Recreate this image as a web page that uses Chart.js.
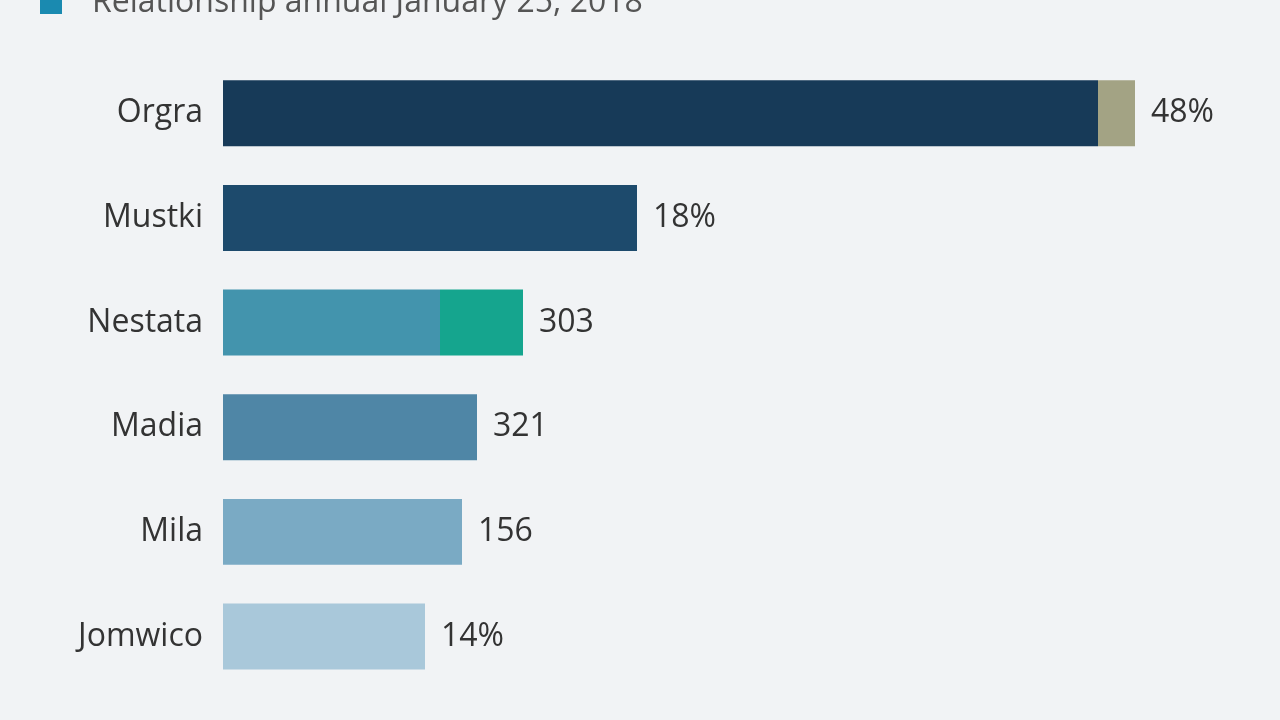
<!DOCTYPE html>
<html><head><meta charset="utf-8">
<script src="https://cdn.jsdelivr.net/npm/chart.js@4"></script>
<style>html,body{margin:0;background:#f1f3f5;}#w{width:1280px;height:720px;position:relative}
#t{position:absolute;left:40px;top:-22px;font:32px "Open Sans",sans-serif;color:#555;white-space:nowrap}
#t span{display:inline-block;width:22px;height:22px;background:#1a8ab0;margin-right:30px;vertical-align:middle}</style>
</head><body><div id="w"><div id="t"><span></span>Relationship annual January 25, 2018</div><canvas id="c" width="1280" height="720"></canvas></div>
<script>
const categories=["Orgra","Mustki","Nestata","Madia","Mila","Jomwico"];
const mainValues=[87.5,41.4,21.7,25.4,23.9,20.2];
const extraValues=[3.7,0,8.3,0,0,0];
const valueLabels=["48%","18%","303","321","156","14%"];
const mainColors=["#173a58","#1d4a6c","#4394ad","#4f86a6","#7aaac4","#a9c8da"];
const extraColors=["#a3a384","#000","#15a58e","#000","#000","#000"];
const endLabels={id:'endLabels',afterDatasetsDraw(ch){const c=ch.ctx;const m0=ch.getDatasetMeta(0),m1=ch.getDatasetMeta(1);
c.save();c.font='32px "Open Sans",sans-serif';c.fillStyle='#333';c.textBaseline='middle';
categories.forEach((_,i)=>{const x=Math.max(m0.data[i].x,extraValues[i]?m1.data[i].x:0);c.fillText(valueLabels[i],x+16,m0.data[i].y);});c.restore();}};
new Chart(document.getElementById('c'),{type:'bar',
data:{labels:categories,datasets:[
{data:mainValues,backgroundColor:mainColors,barPercentage:1,categoryPercentage:0.63},
{data:extraValues,backgroundColor:extraColors,barPercentage:1,categoryPercentage:0.63}]},
options:{indexAxis:'y',responsive:false,animation:false,
layout:{padding:{top:61,bottom:9,right:20,left:0}},
plugins:{legend:{display:false},tooltip:{enabled:false}},
scales:{x:{stacked:true,min:0,max:103.7,display:false},
y:{stacked:true,grid:{display:false},border:{display:false},
ticks:{color:'#333',font:{size:32,family:'"Open Sans",sans-serif'},padding:12},afterFit(s){s.width=223;}}}},
plugins:[endLabels]});
</script></body></html>
